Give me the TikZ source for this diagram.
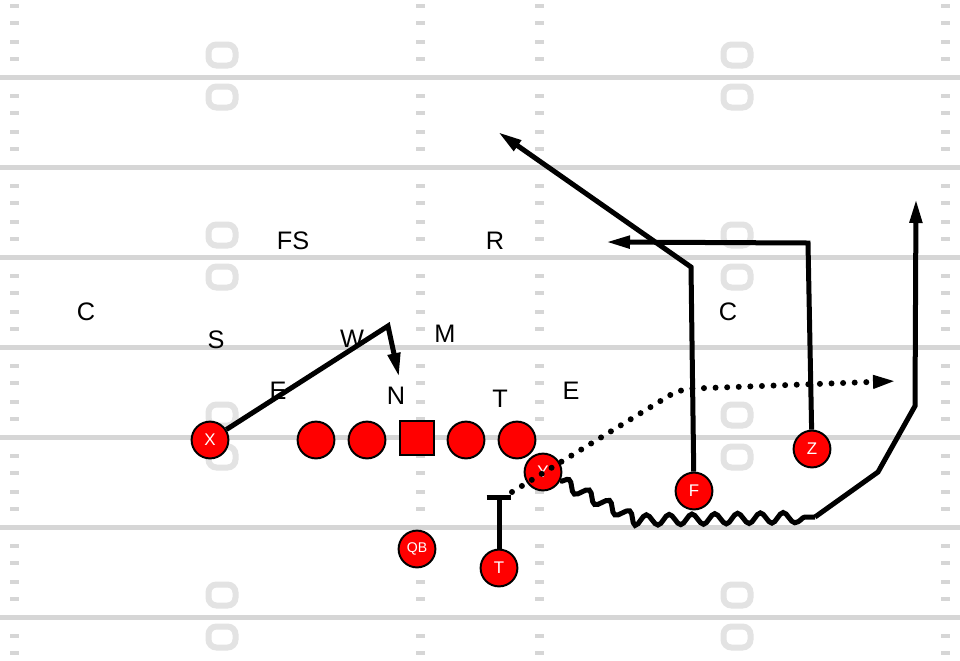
\documentclass[tikz,border=0pt]{standalone}
\usepackage{fontspec}
\setmainfont{Liberation Sans}
\usetikzlibrary{arrows.meta,decorations.pathmorphing}

\definecolor{fieldgray}{HTML}{D6D6D6}
\definecolor{numgray}{HTML}{E3E3E3}
\definecolor{playerred}{HTML}{FF0000}

\begin{document}
\begin{tikzpicture}[x=0.025cm,y=-0.025cm,
    player/.style={circle,draw=black,line width=1.4pt,fill=playerred,text=white,
      minimum size=0.92cm,inner sep=0pt,font=\fontsize{12}{12}\selectfont},
    snapper/.style={player,rectangle,minimum size=0.84cm},
    defender/.style={font=\fontsize{18}{18}\selectfont},
    route/.style={line width=0.125cm},
    arrowtip/.style={-{Triangle[length=0.6cm,width=0.3cm]}},
    motion/.style={line width=0.15cm,line cap=round,dash pattern=on 0pt off 0.29cm},
    wave/.style={decorate,decoration={snake,segment length=0.57cm,amplitude=0.13cm}}]

    \fill[white] (0,0) rectangle (960,660);
    \useasboundingbox (0,0) rectangle (960,660);

    % yard lines
    \foreach \y in {77,167,...,617}
      \draw[fieldgray,line width=0.125cm] (0,\y) -- (960,\y);

    % hash marks
    \foreach \k in {0,...,7}
      \foreach \o in {6,23,42,59}
        \foreach \x in {14.5,420.5,539.5,945.5}
          \draw[fieldgray,line width=0.1cm] (\x-4.5,\k*90+\o) -- (\x+4.5,\k*90+\o);

    % yard numbers
    \foreach \x in {222,737}
      \foreach \y in {55,97,235,277,415,457,595,637}
        \draw[numgray,line width=0.15cm,rounded corners=0.2cm] (\x-13.5,\y-10.5) rectangle (\x+13.5,\y+10.5);

    % defense
    \node[defender] (cbl) at (86,312) {C};
    \node[defender] (ss) at (216,340) {S};
    \node[defender] (fs) at (293,241) {FS};
    \node[defender] (will) at (352,339) {W};
    \node[defender] (mike) at (445,334) {M};
    \node[defender] (rover) at (495,241) {R};
    \node[defender] (el) at (278,391) {E};
    \node[defender] (nose) at (396,396) {N};
    \node[defender] (tk) at (500,399) {T};
    \node[defender] (er) at (571,391) {E};
    \node[defender] (cbr) at (728,312) {C};

    % offense
    \node[player] (X) at (210,440) {X};
    \node[player] (LT) at (316,440) {};
    \node[player] (LG) at (367,440) {};
    \node[snapper] (C) at (417,438) {};
    \node[player] (RG) at (466,440) {};
    \node[player] (RT) at (517,440) {};
    \node[player] (Y) at (543,472) {Y};
    \node[player,font=\fontsize{10}{10}\selectfont] (QB) at (417,549) {QB};
    \node[player] (T) at (499,568) {T};
    \node[player] (F) at (694,491) {F};
    \node[player] (Z) at (812,449) {Z};

    % routes
    \coordinate (xbreak) at (388,326);
    \coordinate (xend) at (399,377);
    \draw[route,arrowtip] (X) -- (xbreak) -- (xend);

    \coordinate (fbreak) at (691,267);
    \coordinate (fend) at (498,132);
    \draw[route,arrowtip] (F) -- (fbreak) -- (fend);

    \coordinate (zbreak) at (808,243);
    \coordinate (zend) at (606,242);
    \draw[route,arrowtip] (Z) -- (zbreak) -- (zend);

    \coordinate (tblock) at (499,495);
    \draw[route,-{Bar[width=0.62cm]}] (T) -- (tblock);

    \coordinate (wdip) at (636,520);
    \coordinate (wend) at (815,517);
    \coordinate (wcut) at (878,472);
    \coordinate (wup) at (915,406);
    \coordinate (wgo) at (916,199);
    \draw[route,wave] (Y) -- (wdip) -- (wend);
    \draw[route,arrowtip] (wend) -- (wcut) -- (wup) -- (wgo);

    % motion
    \coordinate (ymotion) at (512,492);
    \coordinate (ybend) at (680,389);
    \coordinate (yset) at (897,381);
    \draw[motion,arrowtip,rounded corners=0.3cm] (ymotion) -- (ybend) -- (yset);
\end{tikzpicture}
\end{document}
